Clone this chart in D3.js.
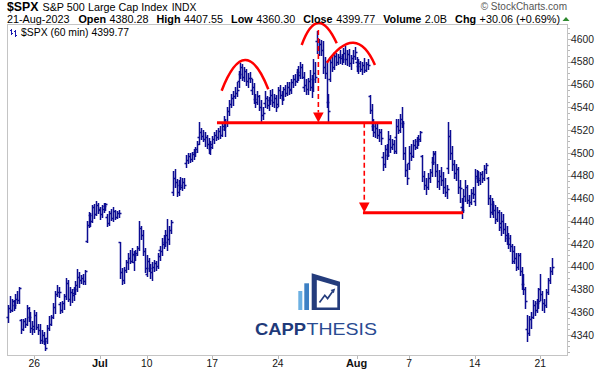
<!DOCTYPE html>
<html><head><meta charset="utf-8">
<script src="https://cdn.jsdelivr.net/npm/d3@7"></script>
<style>
html,body{margin:0;padding:0;background:#fff;}
svg{display:block;}
text{font-family:"Liberation Sans",Arial,sans-serif;}
</style></head><body>
<svg id="chart" width="597" height="370"></svg>
<script>
// ---- trading days (60-min bars) ----
const dayNames = ["Jun22","Jun23","Jun26","Jun27","Jun28","Jun29","Jun30","Jul3","Jul5","Jul6","Jul7",
  "Jul10","Jul11","Jul12","Jul13","Jul14","Jul17","Jul18","Jul19","Jul20","Jul21","Jul24","Jul25","Jul26",
  "Jul27","Jul28","Jul31","Aug1","Aug2","Aug3","Aug4","Aug7","Aug8","Aug9","Aug10","Aug11","Aug14","Aug15",
  "Aug16","Aug17","Aug18","Aug21"];

const opens = [
[4356,4364,4362,4370,4366,4372,4371],[4353,4345,4352,4350,4364,4356,4346],[4345,4358,4347,4344,4336,4340,4335],
[4337,4346,4350,4356,4365,4376,4378],[4367,4362,4368,4374,4386,4372,4378],[4375,4380,4384,4391,4388,4390,4387],
[4423,4437,4445,4440,4452,4446,4454],[4451,4446,4451,4453],[4444,4438,4447,4443,4449,4444,4447],
[4422,4395,4388,4397,4404,4408,4405],[4404,4410,4412,4416,4434,4428,4414],[4394,4405,4399,4395,4400,4403,4401],
[4415,4414,4420,4422,4428,4424,4432],[4466,4478,4474,4466,4472,4470,4474],[4491,4494,4497,4495,4499,4501,4503],
[4514,4518,4515,4512,4514,4508,4503],[4508,4512,4516,4514,4519,4516,4524],[4521,4527,4537,4543,4548,4550,4553],
[4563,4569,4575,4567,4572,4563,4566],[4555,4558,4547,4545,4550,4540,4533],[4544,4548,4542,4546,4551,4545,4548],
[4543,4555,4551,4547,4556,4553,4558],[4556,4562,4565,4563,4571,4568,4575],[4558,4560,4556,4563,4558,4565,4570],
[4598,4592,4596,4590,4575,4570,4545],[4565,4580,4575,4585,4580,4584,4583],[4585,4588,4582,4587,4579,4583,4585],
[4580,4576,4579,4574,4577,4573,4578],[4550,4538,4524,4518,4522,4516,4518],[4496,4490,4503,4498,4512,4505,4508],
[4514,4524,4520,4530,4526,4500,4485],[4491,4500,4497,4507,4505,4510,4512],[4497,4480,4472,4470,4478,4483,4492],
[4500,4484,4475,4480,4476,4470,4466],[4487,4515,4500,4490,4482,4486,4470],[4452,4450,4462,4470,4459,4457,4465],
[4458,4480,4478,4476,4481,4478,4486],[4478,4460,4448,4455,4450,4442,4448],[4435,4440,4433,4428,4425,4420,4418],
[4414,4408,4400,4410,4396,4385,4380],[4345,4342,4354,4356,4366,4362,4368],[4380.28,4376,4368,4366,4378,4388,4396]];

const highs = [
[4366,4374,4372,4371,4376,4379,4382],[4354,4354,4355,4366,4365,4360,4352],[4362,4360,4350,4350,4344,4343,4337],
[4349,4357,4358,4368,4379,4384,4382],[4369,4370,4376,4390,4388,4382,4380],[4382,4387,4398,4395,4393,4394,4397],
[4440,4448,4447,4454,4455,4458,4456],[4452,4454,4456,4456],[4446,4449,4451,4452,4450,4449,4450],
[4422,4399,4400,4406,4412,4415,4416],[4414,4415,4418,4440,4436,4432,4416],[4410,4408,4402,4404,4406,4405,4412],
[4418,4425,4428,4432,4442,4436,4441],[4484,4486,4477,4476,4479,4478,4478],[4498,4500,4500,4501,4503,4505,4510],
[4527,4522,4520,4518,4516,4513,4510],[4515,4518,4520,4522,4524,4526,4532],[4530,4540,4546,4552,4554,4558,4562],
[4572,4579,4578,4575,4574,4570,4571],[4565,4561,4552,4554,4551,4546,4540],[4554,4550,4549,4555,4556,4552,4551],
[4558,4560,4554,4558,4560,4562,4562],[4565,4568,4569,4574,4576,4580,4578],[4571,4565,4566,4573,4568,4582,4580],
[4607,4600,4599,4598,4584,4581,4552],[4584,4586,4589,4588,4587,4590,4587],[4592,4594,4590,4591,4586,4590,4593],
[4584,4582,4581,4580,4583,4580,4582],[4551,4543,4530,4527,4525,4521,4521],[4501,4507,4508,4519,4516,4512,4511],
[4530,4530,4534,4540,4528,4505,4490],[4506,4508,4511,4512,4514,4516,4519],[4498,4484,4478,4482,4486,4496,4502],
[4502,4490,4485,4488,4483,4478,4472],[4527,4520,4506,4494,4490,4488,4476],[4460,4468,4476,4472,4463,4468,4470],
[4486,4485,4484,4483,4484,4489,4491],[4479,4463,4460,4458,4454,4452,4450],[4448,4446,4438,4436,4430,4428,4420],
[4418,4412,4412,4412,4400,4394,4382],[4358,4357,4360,4371,4370,4372,4381],[4394,4379,4372,4380,4390,4400,4407.55]];

const lows = [
[4351,4360,4361,4362,4364,4368,4368],[4342,4344,4347,4349,4352,4343,4341],[4343,4345,4341,4333,4333,4332,4327],
[4333,4344,4349,4355,4359,4374,4373],[4359,4360,4363,4372,4370,4366,4369],[4371,4376,4379,4382,4386,4385,4385],
[4422,4435,4436,4439,4443,4445,4447],[4442,4444,4448,4450],[4436,4437,4441,4440,4442,4443,4444],
[4390,4385,4386,4395,4398,4403,4404],[4397,4406,4410,4415,4424,4410,4395],[4392,4396,4390,4388,4396,4397,4399],
[4406,4410,4416,4418,4415,4420,4430],[4463,4470,4462,4463,4468,4467,4469],[4488,4491,4492,4493,4495,4497,4501],
[4508,4512,4510,4506,4504,4500,4499],[4504,4509,4511,4512,4513,4515,4520],[4515,4524,4533,4540,4542,4548,4550],
[4558,4566,4564,4563,4560,4558,4562],[4552,4544,4540,4543,4538,4527,4530],[4540,4539,4538,4543,4541,4540,4537],
[4541,4548,4543,4546,4550,4551,4552],[4553,4558,4560,4562,4564,4566,4566],[4554,4552,4552,4555,4549,4554,4562],
[4588,4586,4586,4570,4566,4540,4528],[4563,4572,4574,4577,4578,4579,4578],[4580,4578,4577,4576,4574,4579,4582],
[4572,4570,4572,4569,4571,4572,4574],[4535,4520,4515,4514,4513,4510,4508],[4485,4488,4495,4497,4501,4503,4500],
[4500,4517,4518,4523,4495,4480,4473],[4486,4494,4496,4503,4504,4507,4510],[4475,4468,4464,4468,4474,4480,4490],
[4480,4470,4468,4472,4465,4462,4460],[4482,4495,4485,4478,4476,4465,4457],[4443,4448,4458,4456,4453,4455,4460],
[4454,4474,4472,4473,4474,4476,4482],[4455,4444,4446,4444,4438,4440,4432],[4428,4430,4423,4420,4416,4414,4403],
[4403,4397,4398,4393,4380,4376,4364],[4335,4340,4346,4355,4358,4360,4364],[4371,4362,4360.30,4365,4376,4386,4394]];

const closes = [
[4364,4362,4370,4366,4372,4371,4381],[4345,4352,4350,4364,4356,4346,4348],[4358,4347,4344,4336,4340,4335,4329],
[4346,4350,4356,4365,4376,4378,4378],[4362,4368,4374,4386,4372,4378,4377],[4380,4384,4391,4388,4390,4387,4396],
[4437,4445,4440,4452,4446,4454,4450],[4446,4451,4453,4455],[4438,4447,4443,4449,4444,4447,4447],
[4395,4388,4397,4404,4408,4405,4411],[4410,4412,4416,4434,4428,4414,4399],[4405,4399,4395,4400,4403,4401,4409],
[4414,4420,4422,4428,4424,4432,4439],[4478,4474,4466,4472,4470,4474,4472],[4494,4497,4495,4499,4501,4503,4508],
[4518,4515,4512,4514,4508,4503,4505],[4512,4516,4514,4519,4516,4524,4523],[4527,4537,4543,4548,4550,4553,4555],
[4569,4575,4567,4572,4563,4566,4566],[4558,4547,4545,4550,4540,4533,4535],[4548,4542,4546,4551,4545,4548,4540],
[4555,4551,4547,4556,4553,4558,4555],[4562,4565,4563,4571,4568,4575,4567],[4560,4556,4563,4558,4565,4570,4567],
[4592,4596,4590,4575,4570,4545,4537],[4580,4575,4585,4580,4584,4583,4582],[4588,4582,4587,4579,4583,4585,4589],
[4576,4579,4574,4577,4573,4578,4577],[4538,4524,4518,4522,4516,4518,4513],[4490,4503,4498,4512,4505,4508,4502],
[4524,4520,4530,4526,4500,4485,4478],[4500,4497,4507,4505,4510,4512,4518],[4480,4472,4470,4478,4483,4492,4499],
[4484,4475,4480,4476,4470,4466,4468],[4515,4500,4490,4482,4486,4470,4469],[4450,4462,4470,4459,4457,4465,4464],
[4480,4478,4476,4481,4478,4486,4489],[4460,4448,4455,4450,4442,4448,4438],[4440,4433,4428,4425,4420,4418,4405],
[4408,4400,4410,4396,4385,4380,4370],[4342,4354,4356,4366,4362,4368,4370],[4376,4368,4366,4378,4388,4396,4399.77]];

// ---- axis labels ----
const priceTicks = [4340,4360,4380,4400,4420,4440,4460,4480,4500,4520,4540,4560,4580,4600];
const tickDays   = ["Jun26","Jul3","Jul10","Jul17","Jul24","Aug1","Aug7","Aug14","Aug21"];
const tickLabels = ["26","Jul","10","17","24","Aug","7","14","21"];
const tickIsMonth = [false,true,false,false,false,true,false,false,false];

// ---- header ----
const symbol = "$SPX", indexName = "S&P 500 Large Cap Index", exchange = "INDX";
const barDate = "21-Aug-2023";
const statLabels = ["Open","High","Low","Close","Volume","Chg"];
const statValues = ["4380.28","4407.55","4360.30","4399.77","2.0B","+30.06 (+0.69%)"];
const legendText = "$SPX (60 min) 4399.77";

// ---- pattern annotations (bar index, price) ----
const neckline   = [[111.5,4526.5],[204.9,4526.5]];
const targetLine = [[189.4,4447.4],[242.8,4447.4]];
const arches = [
  [[114.0,4554.6],[126.5,4581.5],[138.9,4555.8]],
  [[156.7,4594.7],[165.6,4614.0],[175.4,4596.2]],
  [[170.1,4579.2],[184.3,4596.7],[195.8,4577.2]]];
const drops = [ {idx:165.6, from:4608, to:4526.7}, {idx:190.1, from:4526.5, to:4447.5} ];

// ================= drawing =================
const O = opens.flat(), H = highs.flat(), L = lows.flat(), C = closes.flat();
const N = O.length;
const dayStart = {}; { let k = 0; dayNames.forEach((d,j)=>{ dayStart[d]=k; k += opens[j].length; }); }

const svg = d3.select("#chart");
const plot = {left:7, right:567, top:24, bottom:355};
const x = d3.scaleLinear().domain([0, N-1]).range([8, 551.5]);
const y = d3.scaleLinear().domain([4340, 4600]).range([335, 39]);

// frame
svg.append("rect").attr("x",plot.left+0.5).attr("y",plot.top+0.5)
  .attr("width",plot.right-plot.left).attr("height",plot.bottom-plot.top)
  .attr("fill","#fff").attr("stroke","#c4c4c4").attr("stroke-width",1);

// right axis ticks
const minor = d3.range(4325, 4611, 5);
svg.append("g").attr("shape-rendering","crispEdges").selectAll("line").data(minor).join("line")
  .attr("x1",plot.right+0.5).attr("x2",d=> plot.right+0.5 + (d%20===0?4:2))
  .attr("y1",d=>Math.round(y(d))+0.5).attr("y2",d=>Math.round(y(d))+0.5)
  .attr("stroke","#b8b8b8").attr("stroke-width",1);
svg.append("g").selectAll("text").data(priceTicks).join("text")
  .attr("x",571).attr("y",d=>y(d)).attr("dy","0.36em")
  .attr("font-size",10.3).attr("fill","#222").text(d=>d);

// bottom axis
const xt = tickDays.map((d,i)=>({i:dayStart[d], label:tickLabels[i], bold:tickIsMonth[i]}));
svg.append("g").attr("shape-rendering","crispEdges").selectAll("line").data(xt).join("line")
  .attr("x1",d=>Math.round(x(d.i))+0.5).attr("x2",d=>Math.round(x(d.i))+0.5)
  .attr("y1",plot.bottom+0.5).attr("y2",plot.bottom+3.5).attr("stroke","#b8b8b8");
svg.append("g").selectAll("text").data(xt).join("text")
  .attr("x",d=>x(d.i)).attr("y",367).attr("text-anchor","middle")
  .attr("font-size",d=>d.bold?11:10.3).attr("font-weight",d=>d.bold?"bold":"normal")
  .attr("fill","#111").text(d=>d.label);

// logo (CAPPTHESIS watermark)
const logo = svg.append("g");
logo.append("rect").attr("x",298.3).attr("y",291).attr("width",4).attr("height",19).attr("fill","#6cb0e2");
logo.append("rect").attr("x",304.3).attr("y",283.3).attr("width",4.7).attr("height",26.7).attr("fill","#3d80c4");
logo.append("polygon").attr("points","311.7,273.3 340,281.7 340,310 311.7,310").attr("fill","#243c7c");
logo.append("polygon").attr("points","316.8,280 337.3,286 337.3,307.4 316.8,307.4").attr("fill","#fff");
logo.append("polyline").attr("points","319.5,302.5 324.8,295.3 327.6,298.6 332.6,291.6")
  .attr("fill","none").attr("stroke","#243c7c").attr("stroke-width",1.7);
logo.append("polygon").attr("points","335.2,288.4 330.6,290 333.8,293.2").attr("fill","#243c7c");
logo.append("text").attr("x",255).attr("y",334.5).attr("font-family","'Open Sans',sans-serif")
  .attr("font-weight","800").attr("font-size",17).attr("fill","#1f3a7a")
  .attr("textLength",51).attr("lengthAdjust","spacingAndGlyphs").text("CAPP");
logo.append("text").attr("x",306.5).attr("y",334.5).attr("font-family","'Open Sans',sans-serif")
  .attr("font-weight","400").attr("font-size",17).attr("fill","#2a4b92")
  .attr("textLength",70.5).attr("lengthAdjust","spacingAndGlyphs").text("THESIS");

// OHLC bars
const idx = d3.range(N);
const barPath = i => {
  const xi = Math.round(x(i)) + 0.5;
  const yo = Math.round(y(O[i])) + 0.5, yc = Math.round(y(C[i])) + 0.5;
  return `M${xi},${Math.round(y(H[i]))}V${Math.round(y(L[i]))+1}M${xi-2},${yo}H${xi}M${xi},${yc}H${xi+2}`;
};
svg.append("path").attr("d", idx.map(barPath).join(""))
  .attr("fill","none").attr("stroke","#0c0c92").attr("stroke-width",1.5);

// annotations
const red = "#ff0000";
const ann = svg.append("g");
[neckline, targetLine].forEach(seg=>{
  ann.append("line").attr("x1",x(seg[0][0])).attr("x2",x(seg[1][0]))
    .attr("y1",y(seg[0][1])).attr("y2",y(seg[1][1]))
    .attr("stroke",red).attr("stroke-width",3);
});
arches.forEach(a=>{
  const [p0,p1,p2] = a.map(p=>[x(p[0]), y(p[1])]);
  const cx = 2*p1[0] - (p0[0]+p2[0])/2, cy = 2*p1[1] - (p0[1]+p2[1])/2;
  ann.append("path").attr("d",`M${p0[0]},${p0[1]}Q${cx},${cy} ${p2[0]},${p2[1]}`)
    .attr("fill","none").attr("stroke",red).attr("stroke-width",2.5);
});
drops.forEach(d=>{
  const xx = x(d.idx), yTip = y(d.to), yBase = yTip - 10;
  ann.append("line").attr("x1",xx).attr("x2",xx).attr("y1",y(d.from)).attr("y2",yBase)
    .attr("stroke",red).attr("stroke-width",1.6).attr("stroke-dasharray","5,3");
  ann.append("polygon").attr("points",`${xx-5.3},${yBase} ${xx+5.3},${yBase} ${xx},${yTip}`).attr("fill",red);
});

// header line 1
const y1 = 11.2;
const h1 = svg.append("text").attr("x",7).attr("y",y1).attr("font-weight","bold").attr("font-size",12.3).attr("fill","#000").text(symbol);
const w1 = h1.node().getComputedTextLength();
const h2 = svg.append("text").attr("x",7+w1+4).attr("y",y1).attr("font-size",10.8).attr("fill","#000").text(indexName);
const w2 = h2.node().getComputedTextLength();
svg.append("text").attr("x",7+w1+4+w2+4).attr("y",y1).attr("font-size",10.3).attr("fill","#000").text(exchange);
svg.append("text").attr("x",567).attr("y",10).attr("text-anchor","end").attr("font-size",10).attr("fill","#555").text("\u00A9 StockCharts.com");

// header line 2
let cx2 = 7;
const y2 = 23.4;
const t0 = svg.append("text").attr("x",cx2).attr("y",y2).attr("font-size",10.8).attr("fill","#000").text(barDate);
cx2 += t0.node().getComputedTextLength() + 9;
statLabels.forEach((lab,k)=>{
  const a = svg.append("text").attr("x",cx2).attr("y",y2).attr("font-size",10.8).attr("font-weight","bold").attr("fill","#000").text(lab);
  cx2 += a.node().getComputedTextLength() + 3.5;
  const b = svg.append("text").attr("x",cx2).attr("y",y2).attr("font-size",10.8).attr("fill","#000").text(statValues[k]);
  cx2 += b.node().getComputedTextLength() + 8;
});
const tx = cx2 - 5.5;
svg.append("polygon").attr("points",`${tx},${y2-2.5} ${tx+7},${y2-2.5} ${tx+3.5},${y2-6.5}`).attr("fill","#2f8a2f");

// legend
const lg = svg.append("g").attr("stroke","#1a1ab0").attr("stroke-width",1).attr("fill","none").attr("shape-rendering","crispEdges");
lg.append("path").attr("d","M11.5,28.5V34.5M10,30.5H11.5M11.5,33H13M15.5,30V36.5M14,31H15.5M15.5,35.5H17");
svg.append("text").attr("x",21).attr("y",36).attr("font-family","'DejaVu Sans Mono',monospace")
  .attr("font-size",10.4).attr("fill","#000").text(legendText);
</script>
</body></html>
